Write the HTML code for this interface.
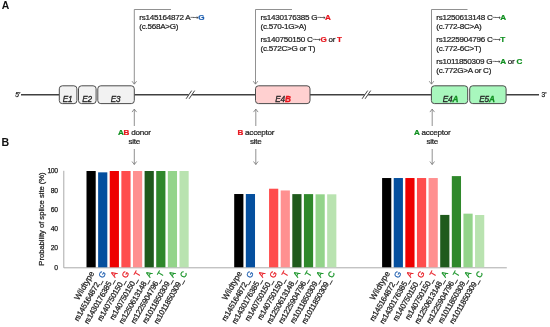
<!DOCTYPE html>
<html><head><meta charset="utf-8"><title>Figure</title>
<style>
html,body{margin:0;padding:0;background:#fff;}
body{width:550px;height:327px;overflow:hidden;}
svg{display:block;}
text{font-family:"Liberation Sans", Arial, sans-serif;}
.t{font-size:8.1px;letter-spacing:-0.26px;fill:#222;stroke:#222;stroke-width:0.22;}
.t tspan.r{stroke:#e8141c}.t tspan.g{stroke:#0f8f1f}.t tspan.bl{stroke:#1f5fb0}
.b{font-weight:bold;}
.r{fill:#e6141c;}
.g{fill:#0f8f1f;}
.bl{fill:#1f5fb0;}
.xl{stroke:#222;stroke-width:0.25;}
.xl tspan.r{stroke:#e8141c}.xl tspan.g{stroke:#0f8f1f}.xl tspan.bl{stroke:#1f5fb0}
.ar{fill:none;stroke:#757575;stroke-width:0.8;}
.ex{stroke:#4c4c4c;stroke-width:1;}
.it{font-style:italic;font-size:8.2px;letter-spacing:-0.2px;fill:#222;stroke:#222;stroke-width:0.3;}
.it tspan.r{stroke:#e8141c}.it tspan.g{stroke:#0f8f1f}
</style></head><body>
<svg width="550" height="327" viewBox="0 0 550 327">
<rect width="550" height="327" fill="#fff"/>
<text x="1.8" y="9.2" font-size="10.4" font-weight="bold" fill="#111">A</text>
<text x="1.6" y="146" font-size="10.6" font-weight="bold" fill="#111">B</text>
<line x1="21" y1="94.75" x2="59.3" y2="94.75" stroke="#404040" stroke-width="1.6"/>
<line x1="134.3" y1="94.75" x2="188.7" y2="94.75" stroke="#404040" stroke-width="1.6"/>
<line x1="192.2" y1="94.75" x2="255.5" y2="94.75" stroke="#404040" stroke-width="1.6"/>
<line x1="310" y1="94.75" x2="364.7" y2="94.75" stroke="#404040" stroke-width="1.6"/>
<line x1="368.2" y1="94.75" x2="431.4" y2="94.75" stroke="#404040" stroke-width="1.6"/>
<line x1="506.1" y1="94.75" x2="539" y2="94.75" stroke="#404040" stroke-width="1.6"/>
<text class="xl" x="15.2" y="96.9" font-size="6.6" font-style="italic" fill="#222">5'</text>
<text class="xl" x="541.5" y="96.9" font-size="6.6" fill="#222">3'</text>
<line x1="186.1" y1="98.8" x2="191.7" y2="90.6" stroke="#444" stroke-width="1"/>
<line x1="189.1" y1="98.8" x2="194.7" y2="90.6" stroke="#444" stroke-width="1"/>
<line x1="362.1" y1="98.8" x2="367.7" y2="90.6" stroke="#444" stroke-width="1"/>
<line x1="365.1" y1="98.8" x2="370.7" y2="90.6" stroke="#444" stroke-width="1"/>
<rect class="ex" x="59.3" y="85.8" width="17.6" height="17.8" rx="3" ry="3" fill="#f2f2f2"/>
<rect class="ex" x="78.5" y="85.8" width="17.6" height="17.8" rx="3" ry="3" fill="#f2f2f2"/>
<rect class="ex" x="97.8" y="85.8" width="36.5" height="17.8" rx="3" ry="3" fill="#f2f2f2"/>
<rect class="ex" x="255.5" y="85.8" width="54.5" height="17.8" rx="3" ry="3" fill="#ffd0d0"/>
<rect class="ex" x="431.4" y="85.8" width="36.3" height="17.8" rx="3" ry="3" fill="#a8f7bd"/>
<rect class="ex" x="469.7" y="85.8" width="36.4" height="17.8" rx="3" ry="3" fill="#a8f7bd"/>
<text class="it" x="67.5" y="102" text-anchor="middle">E1</text>
<text class="it" x="87" y="102" text-anchor="middle">E2</text>
<text class="it" x="115.5" y="102" text-anchor="middle">E3</text>
<text class="it" x="283" y="102" text-anchor="middle">E4<tspan class="b r">B</tspan></text>
<text class="it" x="450.5" y="102" text-anchor="middle">E4<tspan class="b g">A</tspan></text>
<text class="it" x="487" y="102" text-anchor="middle">E5<tspan class="b g">A</tspan></text>
<path class="ar" d="M171 9.5H134.3V84"/>
<path class="ar" d="M132 81.2L134.3 84.2L136.6 81.2"/>
<path class="ar" d="M292 9.5H255.5V84"/>
<path class="ar" d="M253.2 81.2L255.5 84.2L257.8 81.2"/>
<path class="ar" d="M467.5 9.5H431.5V84"/>
<path class="ar" d="M429.2 81.2L431.5 84.2L433.8 81.2"/>
<text class="t" x="139.3" y="20">rs145164872 A<tspan dx="1.2" dy="-1.25">→</tspan><tspan dx="-1.2" dy="1.25" class="b bl">G</tspan></text>
<text class="t" x="139.3" y="29">(c.568A&gt;G)</text>
<text class="t" x="260.6" y="20">rs1430176385 G<tspan dx="1.2" dy="-1.25">→</tspan><tspan dx="-1.2" dy="1.25" class="b r">A</tspan></text>
<text class="t" x="260.6" y="29">(c.570-1G&gt;A)</text>
<text class="t" x="260.6" y="42">rs140750150 C<tspan dx="1.2" dy="-1.25">→</tspan><tspan dx="-1.2" dy="1.25" class="b r">G</tspan> or <tspan class="b r">T</tspan></text>
<text class="t" x="260.6" y="51">(c.572C&gt;G or T)</text>
<text class="t" x="436.3" y="20">rs1250613148 C<tspan dx="1.2" dy="-1.25">→</tspan><tspan dx="-1.2" dy="1.25" class="b g">A</tspan></text>
<text class="t" x="436.3" y="29">(c.772-8C&gt;A)</text>
<text class="t" x="436.3" y="42">rs1225904796 C<tspan dx="1.2" dy="-1.25">→</tspan><tspan dx="-1.2" dy="1.25" class="b g">T</tspan></text>
<text class="t" x="436.3" y="51">(c.772-6C&gt;T)</text>
<text class="t" x="436.3" y="64">rs1011850309 G<tspan dx="1.2" dy="-1.25">→</tspan><tspan dx="-1.2" dy="1.25" class="b g">A</tspan> or <tspan class="b g">C</tspan></text>
<text class="t" x="436.3" y="73">(c.772G&gt;A or C)</text>
<line x1="190.48" y1="17.38" x2="193.78" y2="17.38" stroke="#222" stroke-width="0.6"/>
<line x1="317.37" y1="17.38" x2="320.67" y2="17.38" stroke="#222" stroke-width="0.6"/>
<line x1="312.67" y1="39.38" x2="315.97" y2="39.38" stroke="#222" stroke-width="0.6"/>
<line x1="492.62" y1="17.38" x2="495.92" y2="17.38" stroke="#222" stroke-width="0.6"/>
<line x1="492.62" y1="39.38" x2="495.92" y2="39.38" stroke="#222" stroke-width="0.6"/>
<line x1="492.46" y1="61.38" x2="495.76" y2="61.38" stroke="#222" stroke-width="0.6"/>
<path class="ar" d="M134.3 126V109.2"/>
<path class="ar" d="M132 112.1L134.3 109.1L136.6 112.1"/>
<path class="ar" d="M134.3 149V164.5"/>
<path class="ar" d="M132 161.5L134.3 164.5L136.6 161.5"/>
<text class="t" x="134.3" y="135" text-anchor="middle"><tspan class="b g">A</tspan><tspan class="b r">B</tspan> donor</text>
<text class="t" x="134.3" y="144" text-anchor="middle">site</text>
<path class="ar" d="M255.8 126V109.2"/>
<path class="ar" d="M253.5 112.1L255.8 109.1L258.1 112.1"/>
<path class="ar" d="M255.8 149V164.5"/>
<path class="ar" d="M253.5 161.5L255.8 164.5L258.1 161.5"/>
<text class="t" x="255.8" y="135" text-anchor="middle"><tspan class="b r">B</tspan> acceptor</text>
<text class="t" x="255.8" y="144" text-anchor="middle">site</text>
<path class="ar" d="M432.2 126V109.2"/>
<path class="ar" d="M429.9 112.1L432.2 109.1L434.5 112.1"/>
<path class="ar" d="M432.2 149V164.5"/>
<path class="ar" d="M429.9 161.5L432.2 164.5L434.5 161.5"/>
<text class="t" x="432.2" y="135" text-anchor="middle"><tspan class="b g">A</tspan> acceptor</text>
<text class="t" x="432.2" y="144" text-anchor="middle">site</text>
<path d="M63.8 170.8V267.8H506.8" fill="none" stroke="#aaa" stroke-width="1"/>
<text class="xl" x="57.6" y="269.6" font-size="6.8" letter-spacing="-0.4" fill="#222" text-anchor="end">0</text>
<text class="xl" x="57.6" y="250.34" font-size="6.8" letter-spacing="-0.4" fill="#222" text-anchor="end">20</text>
<text class="xl" x="57.6" y="231.08" font-size="6.8" letter-spacing="-0.4" fill="#222" text-anchor="end">40</text>
<text class="xl" x="57.6" y="211.82" font-size="6.8" letter-spacing="-0.4" fill="#222" text-anchor="end">60</text>
<text class="xl" x="57.6" y="192.56" font-size="6.8" letter-spacing="-0.4" fill="#222" text-anchor="end">80</text>
<text class="xl" x="57.6" y="173.3" font-size="6.8" letter-spacing="-0.4" fill="#222" text-anchor="end">100</text>
<text class="xl" font-size="7.6" fill="#222" text-anchor="middle" transform="translate(44.4 219) rotate(-90)">Probability of splice site (%)</text>
<rect x="86.5" y="171" width="9.2" height="96.3" fill="#000000"/>
<text class="xl" font-size="8.3" fill="#222" text-anchor="end" transform="translate(94.6 273.2) rotate(-60)">Wildtype</text>
<rect x="98.12" y="172.348" width="9.2" height="94.9518" fill="#054f9e"/>
<text class="xl" font-size="7.8" letter-spacing="-0.2" fill="#222" text-anchor="end" transform="translate(106.22 273.2) rotate(-60)">rs145164872_<tspan class="bl" dx="2.2" letter-spacing="0" font-size="8.3">G</tspan></text>
<rect x="109.74" y="171" width="9.2" height="96.3" fill="#ee0000"/>
<text class="xl" font-size="7.8" letter-spacing="-0.2" fill="#222" text-anchor="end" transform="translate(117.84 273.2) rotate(-60)">rs1430176385_<tspan class="r" dx="2.2" letter-spacing="0" font-size="8.3">A</tspan></text>
<rect x="121.36" y="171" width="9.2" height="96.3" fill="#ff4d4d"/>
<text class="xl" font-size="7.8" letter-spacing="-0.2" fill="#222" text-anchor="end" transform="translate(129.46 273.2) rotate(-60)">rs140750150_<tspan class="r" dx="2.2" letter-spacing="0" font-size="8.3">G</tspan></text>
<rect x="132.98" y="171" width="9.2" height="96.3" fill="#ff9090"/>
<text class="xl" font-size="7.8" letter-spacing="-0.2" fill="#222" text-anchor="end" transform="translate(141.08 273.2) rotate(-60)">rs140750150_<tspan class="r" dx="2.2" letter-spacing="0" font-size="8.3">T</tspan></text>
<rect x="144.6" y="171" width="9.2" height="96.3" fill="#1f5a1c"/>
<text class="xl" font-size="7.8" letter-spacing="-0.2" fill="#222" text-anchor="end" transform="translate(152.7 273.2) rotate(-60)">rs1250613148_<tspan class="g" dx="2.2" letter-spacing="0" font-size="8.3">A</tspan></text>
<rect x="156.22" y="171" width="9.2" height="96.3" fill="#2f882b"/>
<text class="xl" font-size="7.8" letter-spacing="-0.2" fill="#222" text-anchor="end" transform="translate(164.32 273.2) rotate(-60)">rs1225904796_<tspan class="g" dx="2.2" letter-spacing="0" font-size="8.3">T</tspan></text>
<rect x="167.84" y="171" width="9.2" height="96.3" fill="#93d48a"/>
<text class="xl" font-size="7.8" letter-spacing="-0.2" fill="#222" text-anchor="end" transform="translate(175.94 273.2) rotate(-60)">rs1011850309_<tspan class="g" dx="2.2" letter-spacing="0" font-size="8.3">A</tspan></text>
<rect x="179.46" y="171" width="9.2" height="96.3" fill="#b9e3b0"/>
<text class="xl" font-size="7.8" letter-spacing="-0.2" fill="#222" text-anchor="end" transform="translate(187.56 273.2) rotate(-60)">rs1011850309_<tspan class="g" dx="2.2" letter-spacing="0" font-size="8.3">C</tspan></text>
<rect x="234.2" y="194.016" width="9.2" height="73.2843" fill="#000000"/>
<text class="xl" font-size="8.3" fill="#222" text-anchor="end" transform="translate(242.3 273.2) rotate(-60)">Wildtype</text>
<rect x="245.82" y="194.016" width="9.2" height="73.2843" fill="#054f9e"/>
<text class="xl" font-size="7.8" letter-spacing="-0.2" fill="#222" text-anchor="end" transform="translate(253.92 273.2) rotate(-60)">rs145164872_<tspan class="bl" dx="2.2" letter-spacing="0" font-size="8.3">G</tspan></text>
<text class="xl" font-size="7.8" letter-spacing="-0.2" fill="#222" text-anchor="end" transform="translate(265.54 273.2) rotate(-60)">rs1430176385_<tspan class="r" dx="2.2" letter-spacing="0" font-size="8.3">A</tspan></text>
<rect x="269.06" y="188.719" width="9.2" height="78.5808" fill="#ff4d4d"/>
<text class="xl" font-size="7.8" letter-spacing="-0.2" fill="#222" text-anchor="end" transform="translate(277.16 273.2) rotate(-60)">rs140750150_<tspan class="r" dx="2.2" letter-spacing="0" font-size="8.3">G</tspan></text>
<rect x="280.68" y="190.453" width="9.2" height="76.8474" fill="#ff9090"/>
<text class="xl" font-size="7.8" letter-spacing="-0.2" fill="#222" text-anchor="end" transform="translate(288.78 273.2) rotate(-60)">rs140750150_<tspan class="r" dx="2.2" letter-spacing="0" font-size="8.3">T</tspan></text>
<rect x="292.3" y="194.112" width="9.2" height="73.188" fill="#1f5a1c"/>
<text class="xl" font-size="7.8" letter-spacing="-0.2" fill="#222" text-anchor="end" transform="translate(300.4 273.2) rotate(-60)">rs1250613148_<tspan class="g" dx="2.2" letter-spacing="0" font-size="8.3">A</tspan></text>
<rect x="303.92" y="194.112" width="9.2" height="73.188" fill="#2f882b"/>
<text class="xl" font-size="7.8" letter-spacing="-0.2" fill="#222" text-anchor="end" transform="translate(312.02 273.2) rotate(-60)">rs1225904796_<tspan class="g" dx="2.2" letter-spacing="0" font-size="8.3">T</tspan></text>
<rect x="315.54" y="194.305" width="9.2" height="72.9954" fill="#93d48a"/>
<text class="xl" font-size="7.8" letter-spacing="-0.2" fill="#222" text-anchor="end" transform="translate(323.64 273.2) rotate(-60)">rs1011850309_<tspan class="g" dx="2.2" letter-spacing="0" font-size="8.3">A</tspan></text>
<rect x="327.16" y="194.305" width="9.2" height="72.9954" fill="#b9e3b0"/>
<text class="xl" font-size="7.8" letter-spacing="-0.2" fill="#222" text-anchor="end" transform="translate(335.26 273.2) rotate(-60)">rs1011850309_<tspan class="g" dx="2.2" letter-spacing="0" font-size="8.3">C</tspan></text>
<rect x="382.1" y="178.03" width="9.2" height="89.2701" fill="#000000"/>
<text class="xl" font-size="8.3" fill="#222" text-anchor="end" transform="translate(390.2 273.2) rotate(-60)">Wildtype</text>
<rect x="393.72" y="178.03" width="9.2" height="89.2701" fill="#054f9e"/>
<text class="xl" font-size="7.8" letter-spacing="-0.2" fill="#222" text-anchor="end" transform="translate(401.82 273.2) rotate(-60)">rs145164872_<tspan class="bl" dx="2.2" letter-spacing="0" font-size="8.3">G</tspan></text>
<rect x="405.34" y="178.03" width="9.2" height="89.2701" fill="#ee0000"/>
<text class="xl" font-size="7.8" letter-spacing="-0.2" fill="#222" text-anchor="end" transform="translate(413.44 273.2) rotate(-60)">rs1430176385_<tspan class="r" dx="2.2" letter-spacing="0" font-size="8.3">A</tspan></text>
<rect x="416.96" y="178.03" width="9.2" height="89.2701" fill="#ff4d4d"/>
<text class="xl" font-size="7.8" letter-spacing="-0.2" fill="#222" text-anchor="end" transform="translate(425.06 273.2) rotate(-60)">rs140750150_<tspan class="r" dx="2.2" letter-spacing="0" font-size="8.3">G</tspan></text>
<rect x="428.58" y="178.03" width="9.2" height="89.2701" fill="#ff9090"/>
<text class="xl" font-size="7.8" letter-spacing="-0.2" fill="#222" text-anchor="end" transform="translate(436.68 273.2) rotate(-60)">rs140750150_<tspan class="r" dx="2.2" letter-spacing="0" font-size="8.3">T</tspan></text>
<rect x="440.2" y="214.913" width="9.2" height="52.3872" fill="#1f5a1c"/>
<text class="xl" font-size="7.8" letter-spacing="-0.2" fill="#222" text-anchor="end" transform="translate(448.3 273.2) rotate(-60)">rs1250613148_<tspan class="g" dx="2.2" letter-spacing="0" font-size="8.3">A</tspan></text>
<rect x="451.82" y="176.104" width="9.2" height="91.1961" fill="#2f882b"/>
<text class="xl" font-size="7.8" letter-spacing="-0.2" fill="#222" text-anchor="end" transform="translate(459.92 273.2) rotate(-60)">rs1225904796_<tspan class="g" dx="2.2" letter-spacing="0" font-size="8.3">T</tspan></text>
<rect x="463.44" y="213.661" width="9.2" height="53.6391" fill="#93d48a"/>
<text class="xl" font-size="7.8" letter-spacing="-0.2" fill="#222" text-anchor="end" transform="translate(471.54 273.2) rotate(-60)">rs1011850309_<tspan class="g" dx="2.2" letter-spacing="0" font-size="8.3">A</tspan></text>
<rect x="475.06" y="215.009" width="9.2" height="52.2909" fill="#b9e3b0"/>
<text class="xl" font-size="7.8" letter-spacing="-0.2" fill="#222" text-anchor="end" transform="translate(483.16 273.2) rotate(-60)">rs1011850309_<tspan class="g" dx="2.2" letter-spacing="0" font-size="8.3">C</tspan></text>
</svg>
</body></html>
